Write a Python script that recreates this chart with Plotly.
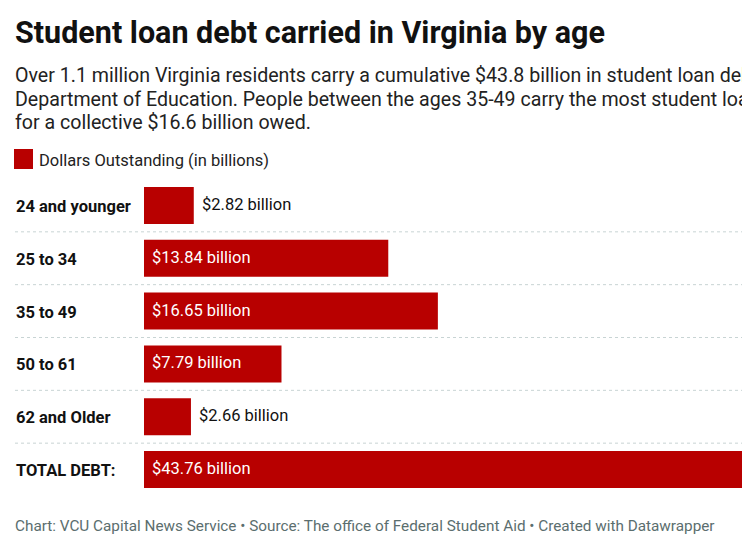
import plotly.graph_objects as go

categories = ["24 and younger", "25 to 34", "35 to 49", "50 to 61", "62 and Older", "TOTAL DEBT:"]
values = [2.82, 13.84, 16.65, 7.79, 2.66, 43.76]
labels = ["$2.82 billion", "$13.84 billion", "$16.65 billion", "$7.79 billion", "$2.66 billion", "$43.76 billion"]
inside = [False, True, True, True, False, True]

# the page body adds an 8px margin; work in screen pixels and convert
OFF = 8
W, H = 750, 550 - 2 * OFF
RED = "#b80000"
FONT = "Roboto"


def px(x):
    return (x - OFF) / W


def py(y):
    return 1 - (y - OFF) / H


fig = go.Figure()
fig.add_trace(go.Bar(
    x=values, y=categories, orientation="h",
    marker=dict(color=RED, line=dict(width=0)),
    hoverinfo="skip", showlegend=False,
))

ann = []
for c in categories:
    ann.append(dict(x=px(14), y=c, xref="paper", yref="y", text="<b>" + c + "</b>",
                    showarrow=False, xanchor="left", yanchor="middle", yshift=-1,
                    font=dict(family=FONT, size=16.5, color="#111111")))
for c, v, t, ins in zip(categories, values, labels, inside):
    ann.append(dict(x=0 if ins else v, y=c, xref="x", yref="y", text=t,
                    showarrow=False, xanchor="left", yanchor="middle", xshift=6, yshift=1,
                    font=dict(family=FONT, size=16.5, color="white" if ins else "#111111")))

ann.append(dict(x=px(13), y=py(32), xref="paper", yref="paper",
                text="<b>Student loan debt carried in Virginia by age</b>", showarrow=False,
                xanchor="left", yanchor="middle", font=dict(family=FONT, size=30.5, color="#111111")))
sub = ["Over 1.1 million Virginia residents carry a cumulative $43.8 billion in student loan debt, according to the U.S.",
       "Department of Education. People between the ages 35-49 carry the most student loan debt of any age group,",
       "for a collective $16.6 billion owed."]
for line, yc in zip(sub, [76, 100, 123]):
    ann.append(dict(x=px(13), y=py(yc), xref="paper", yref="paper", text=line,
                    showarrow=False, xanchor="left", yanchor="middle", align="left",
                    font=dict(family=FONT, size=19.6, color="#222222")))
ann.append(dict(x=px(37), y=py(160), xref="paper", yref="paper",
                text="Dollars Outstanding (in billions)", showarrow=False,
                xanchor="left", yanchor="middle", font=dict(family=FONT, size=16.5, color="#222222")))
ann.append(dict(x=px(13), y=py(526), xref="paper", yref="paper",
                text="Chart: VCU Capital News Service • Source: The office of Federal Student Aid • Created with Datawrapper",
                showarrow=False, xanchor="left", yanchor="middle",
                font=dict(family=FONT, size=15.3, color="#5b6e6e")))

shapes = [dict(type="rect", xref="paper", yref="paper",
               x0=px(14), x1=px(33), y0=py(169), y1=py(149),
               fillcolor=RED, line=dict(width=0))]
for i in range(len(categories) - 1):
    shapes.append(dict(type="line", xref="paper", yref="y", x0=px(15), x1=1,
                       y0=i + 0.5, y1=i + 0.5, layer="below",
                       line=dict(color="#c8d4d4", width=1, dash="dot")))

x0px = 144
px_per_unit = 17.65
fig.update_layout(
    width=W, height=H, margin=dict(l=0, r=0, t=0, b=0),
    paper_bgcolor="white", plot_bgcolor="white",
    bargap=0.3,
    xaxis=dict(domain=[px(x0px), 1], range=[0, (W + OFF - x0px) / px_per_unit],
               showgrid=False, zeroline=False, showticklabels=False, ticks="", fixedrange=True),
    yaxis=dict(domain=[py(496), py(179)], autorange="reversed",
               showgrid=False, zeroline=False, showticklabels=False, ticks="", fixedrange=True),
    annotations=ann, shapes=shapes,
)
fig.write_html("out.html")
